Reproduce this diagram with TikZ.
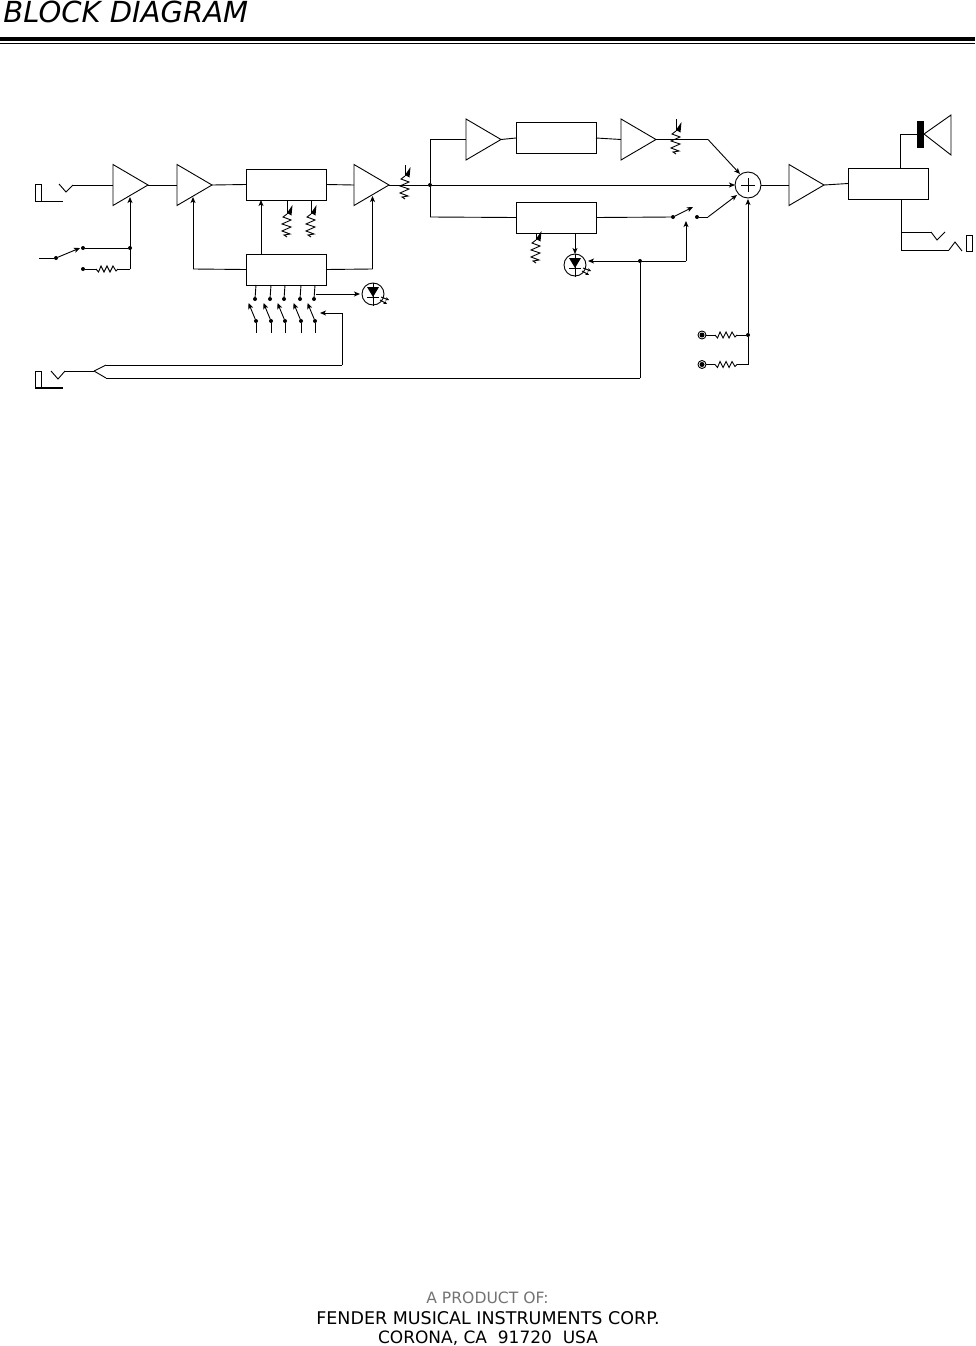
\documentclass[tikz,border=0pt]{standalone}
\usepackage{fontspec}
\setmainfont{DejaVu Sans}
\usetikzlibrary{arrows.meta,shapes.geometric}

\tikzstyle{amp}=[isosceles triangle, isosceles triangle stretches, draw, anchor=apex,
                 minimum width=41pt, minimum height=35pt, inner sep=0pt, outer sep=0pt]
\tikzstyle{block}=[rectangle, draw, minimum width=80pt, minimum height=31pt, inner sep=0pt, outer sep=0pt]
\tikzstyle{junction}=[circle, fill=black, minimum size=4pt, inner sep=0pt, outer sep=0pt]
\tikzstyle{edge} = [draw, -]
\tikzstyle{directed-edge} = [draw, -{Stealth[length=6pt,width=5pt,inset=1.5pt]}]
\tikzset{
  resistor/.pic={
    \node[coordinate] (-in) at (0,0) {};
    \node[coordinate] (-out) at (22,0) {};
    \draw (0,0) -- (2.5,3) -- (5,-3) -- (8,3) -- (11,-3) -- (14,3) -- (17,-3) -- (20,2) -- (22,0);
  },
  pot/.pic={
    \node[coordinate] (-top) at (0,-8) {};
    \draw (0,-8) -- (-4,-5) -- (4,-2) -- (-5,2) -- (4,5) -- (-5,9) -- (3,12) -- (-3,13) -- (0,15);
    \fill (5.5,-17) -- (0,-9) -- (4.5,-6.5) -- cycle;
  },
  led/.pic={
    \draw (0,0) circle (11);
    \draw (0,-11) -- (0,12);
    \fill (-6,-7) -- (6,-7) -- (0,3) -- cycle;
    \draw (-6,3) -- (6,3);
    \draw[-{Stealth[length=3.5pt,width=3.5pt]}] (8,3) -- (16,6);
    \draw[-{Stealth[length=3.5pt,width=3.5pt]}] (7,6) -- (14,10);
  },
  socket/.pic={
    \draw (0,0) circle (4);
    \fill (0,0) circle (2.5);
  }
}

\begin{document}
\begin{tikzpicture}[x=1pt, y=-1pt, line width=0.9pt]
    \useasboundingbox (0,0) rectangle (975,1346);
    % Title and rules
    \node[anchor=base west, inner sep=0pt, font=\fontsize{29}{29}\selectfont\itshape] (title) at (3,23) {BLOCK DIAGRAM};
    \foreach \pos/\name in {{(0,39)/rule1l}, {(975,39)/rule1r}, {(0,44)/rule2l}, {(975,44)/rule2r}}
      \node[coordinate] (\name) at \pos {};
    \path[draw, line width=4pt] (rule1l) -- (rule1r);
    \path[draw, line width=1pt] (rule2l) -- (rule2r);
    % First we draw the amplifiers and blocks
    \foreach \pos/\name in {{(148,185)/amp1}, {(212,185)/amp2}, {(389,185)/amp3},
        {(501,139.5)/amp4}, {(656,139.5)/amp5}, {(824,185)/amp6}} {
      \node[amp] (\name) at \pos {};
      \node[coordinate] (\name-in) at ([xshift=-35pt]\name.apex) {};
    }
    \foreach \pos/\name in {{(286,184.5)/block1}, {(286,269.5)/block2},
        {(556,138)/block3}, {(556,217.5)/block4}, {(888,183.5)/block5}}
      \node[block] (\name) at \pos {};
    \node[circle, draw, minimum size=26pt, inner sep=0pt, outer sep=0pt] (sum) at (748,185) {};
    \draw ([xshift=-7pt]sum.center) -- ([xshift=7pt]sum.center);
    \draw ([yshift=-7pt]sum.center) -- ([yshift=7pt]sum.center);
    % Junctions
    \foreach \pos/\name in {{(130,248)/j1}, {(83,248)/j2}, {(56,258)/j3}, {(83,269)/j4},
        {(430,185)/j5}, {(673,217)/j6}, {(697,217)/j7}, {(640,261)/j8}, {(748,335)/j9}}
      \node[junction] (\name) at \pos {};
    % Free ends and bends
    \foreach \pos/\name in {{(73,185)/in1}, {(130,197)/ctl1}, {(130,269)/c1}, {(39,258)/c2},
        {(80,248)/c3}, {(193,197)/ctl2}, {(193,269)/c4}, {(372.5,196)/ctl3}, {(372.5,269)/c5},
        {(65,371)/in2}, {(94,371)/fork}, {(106,365)/fork1}, {(106,378)/fork2}, {(342,365)/c6},
        {(342,313)/c7}, {(320,313)/c8}, {(640,378)/c9}, {(430,139.5)/c10}, {(430,217)/c11},
        {(735,185)/c12}, {(708,139.5)/c13}, {(740,174)/c14}, {(693,207)/c15}, {(708,217)/c16},
        {(737,195)/c17}, {(686,261)/c18}, {(686,221)/c19}, {(588,261)/c20}, {(575,254)/c21},
        {(748,199)/c22}, {(748,364.5)/c23}, {(360,294)/c24}, {(316,294)/c25}, {(900,134)/c26},
        {(901,232)/c27}, {(931,232)/c28}, {(901,250)/c29}, {(949,250)/c30}, {(917,134)/c31},
        {(706,335)/sock1}, {(706,364.5)/sock2}, {(261,254)/c32}, {(261,200)/c33},
        {(405,165)/c34}, {(676,119)/c35}}
      \node[coordinate] (\name) at \pos {};
    % Pots, resistors, LEDs, sockets
    \foreach \pos/\name in {{(287,222)/pot1}, {(311,222)/pot2}, {(405,184)/pot3},
        {(536,248)/pot4}, {(676,139)/pot5}}
      \path \pos pic[name prefix=\name] {pot};
    \foreach \pos/\name in {{(96,269)/res1}, {(715,335)/res2}, {(715,364.5)/res3}}
      \path \pos pic[name prefix=\name] {resistor};
    \foreach \pos in {(373,294), (575,265)}
      \path \pos pic {led};
    \foreach \pos in {(702,335), (702,364.5)}
      \path \pos pic {socket};
    % Jacks and speaker
    \draw (41,184) rectangle (35,201) (35,201) -- (63,201);
    \draw (59,184) -- (66,192) -- (in1);
    \draw (41,371) rectangle (35,388);
    \draw[line width=1.4pt] (35,388) -- (63,388);
    \draw (51,371) -- (58,379) -- (in2);
    \draw (c28) -- (937,240) -- (945,232);
    \draw (c30) -- (955,242) -- (962,251);
    \draw (966,235) rectangle (972,251);
    \fill (917,121) rectangle (924,148);
    \draw (924,134) -- (951,115) -- (951,155) -- cycle;
    % Connect everything with edges
    \foreach \source/ \dest in {in1/amp1-in, amp1.apex/amp2-in, amp2.apex/block1.west,
        block1.east/amp3-in, amp3.apex/j5, j5/c10, c10/amp4-in, amp4.apex/block3.west,
        block3.east/amp5-in, amp5.apex/c13, j5/c11, c11/block4.west, block4.east/j6,
        j7/c16, sum.east/amp6-in, amp6.apex/block5.west, c2/j3, j2/j1, j4/res1-in,
        res1-out/c1, block2.west/c4, block2.east/c5, in2/fork, fork/fork1, fork/fork2,
        fork1/c6, c6/c7, fork2/c9, c9/j8, j8/c18, sock1/res2-in, res2-out/j9, sock2/res3-in,
        res3-out/c23, c23/j9, c26/c31, c27/c28, c29/c30, c34/pot3-top, c35/pot5-top}
      \path[edge] (\source) -- (\dest);
    \foreach \source/ \dest in {c1/ctl1, c4/ctl2, c5/ctl3, j3/c3, c7/c8, j5/c12, c13/c14,
        j6/c15, c16/c17, c18/c19, j8/c20, j9/c22, c25/c24, c32/c33}
      \path[directed-edge] (\source) -- (\dest);
    \path[directed-edge] (block4.south -| c21) -- (c21);
    \path[edge] (block1.south -| pot1-top) -- (pot1-top);
    \path[edge] (block1.south -| pot2-top) -- (pot2-top);
    \path[edge] (block4.south -| pot4-top) -- (pot4-top);
    \path[edge] (block5.north -| c26) -- (c26);
    \path[edge] (block5.south -| c27) -- (c29);
    % Selector switches
    \foreach \i/\x in {1/256, 2/271, 3/285, 4/301, 5/315} {
      \node[junction] (top\i) at (\x-1,299) {};
      \node[junction] (low\i) at (\x,321) {};
      \node[coordinate] (base\i) at (\x,333) {};
      \node[coordinate] (wiper\i) at (\x-7.5,303) {};
      \path[edge] (block2.south -| low\i) -- (top\i);
      \path[edge] (base\i) -- (low\i);
      \path[directed-edge] (low\i) -- (wiper\i);
    }
    % Footer
    \node[text=black!55, font=\fontsize{15.6}{15.6}\selectfont] (maker) at (487.5,1298) {A PRODUCT OF:};
    \node[font=\fontsize{17.5}{17.5}\selectfont] (fender) at (488,1318) {FENDER MUSICAL INSTRUMENTS CORP.};
    \node[font=\fontsize{17}{17}\selectfont] (corona) at (488,1338.5) {CORONA, CA\ \ 91720\ \ USA};
\end{tikzpicture}
\end{document}
